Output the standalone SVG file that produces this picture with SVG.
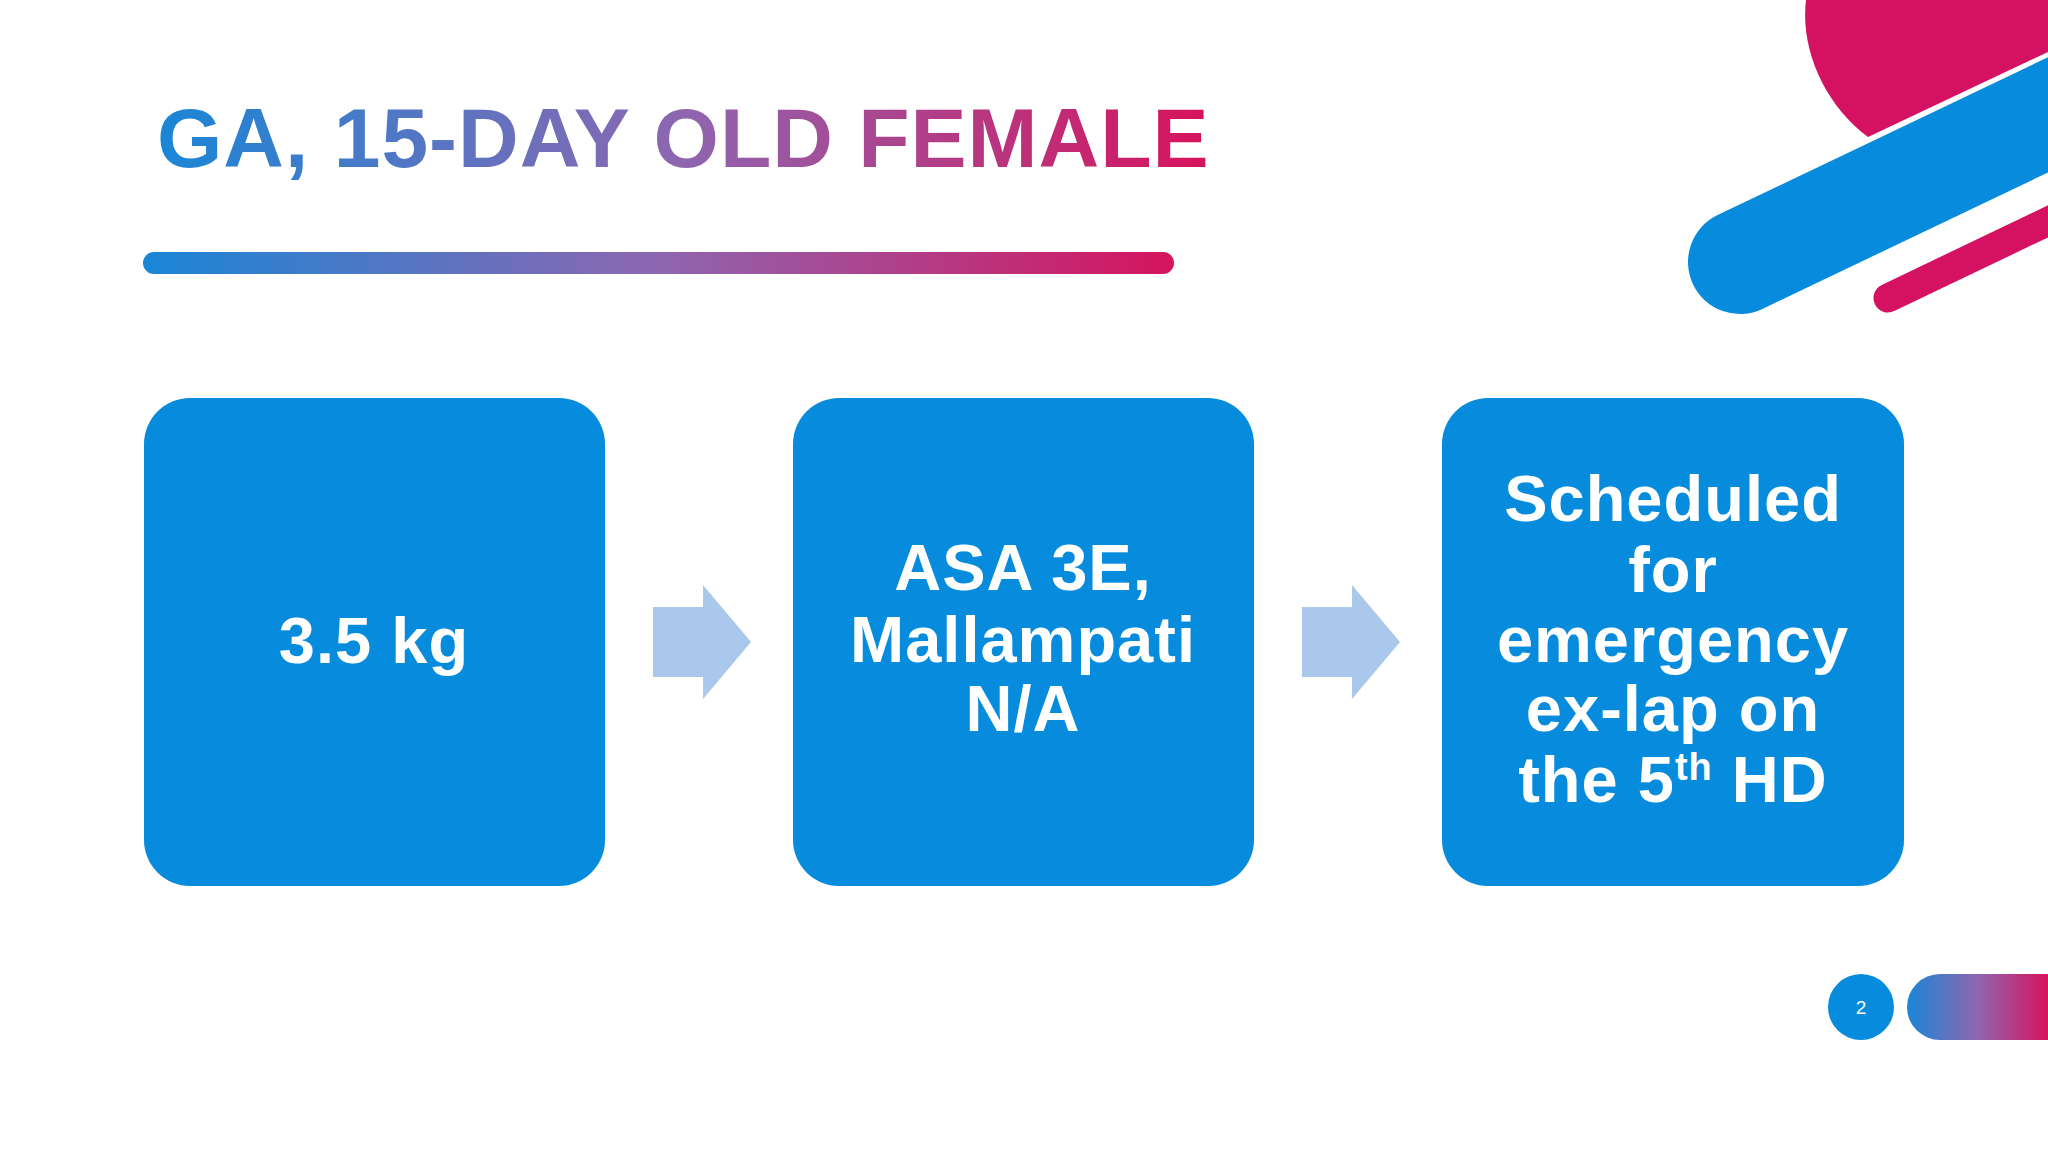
<svg xmlns="http://www.w3.org/2000/svg" width="2048" height="1152" viewBox="0 0 2048 1152">
<defs>
<linearGradient id="g" x1="0" y1="0" x2="1" y2="0"><stop offset="0" stop-color="#1a86d6"/><stop offset="0.5" stop-color="#8e66b0"/><stop offset="1" stop-color="#d6145e"/></linearGradient>
<linearGradient id="tg" gradientUnits="userSpaceOnUse" x1="157" y1="0" x2="1200" y2="0"><stop offset="0" stop-color="#1a86d6"/><stop offset="0.5" stop-color="#8e66b0"/><stop offset="1" stop-color="#d6145e"/></linearGradient>
<style>
.box{fill:#078bdc}
.arr{fill:#a9c8ec}
.t{font-family:"Liberation Sans",Arial,sans-serif;font-weight:bold;fill:#fff;font-size:65px;text-anchor:middle;letter-spacing:1px}
</style>
</defs>
<rect width="2048" height="1152" fill="#fff"/>
<path d="M1806,0 C1800,50 1825,105 1868,137 L2048,52 L2048,0 Z" fill="#d41261"/>
<line x1="1740" y1="262" x2="2100" y2="90" stroke="#078bdc" stroke-width="104" stroke-linecap="round"/>
<line x1="1888" y1="298" x2="2080" y2="206" stroke="#d41261" stroke-width="29" stroke-linecap="round"/>
<text x="157" y="167" font-family="Liberation Sans,Arial,sans-serif" font-weight="bold" font-size="84" letter-spacing="1" fill="url(#tg)">GA, 15-DAY OLD FEMALE</text>
<rect x="143" y="252" width="1031" height="22" rx="11" fill="url(#g)"/>
<g id="n1"><rect class="box" x="144" y="398" width="461" height="488" rx="46"/><text class="t" x="374" y="663">3.5 kg</text></g>
<g id="n2"><rect class="box" x="793" y="398" width="461" height="488" rx="46"/><text class="t" x="1023" y="590">ASA 3E,</text><text class="t" x="1023" y="662">Mallampati</text><text class="t" x="1023" y="731">N/A</text></g>
<g id="n3"><rect class="box" x="1442" y="398" width="462" height="488" rx="46"/><text class="t" x="1673" y="521">Scheduled</text><text class="t" x="1673" y="592">for</text><text class="t" x="1673" y="662">emergency</text><text class="t" x="1673" y="731">ex-lap on</text><text class="t" x="1673" y="802">the 5<tspan font-size="38" dy="-22">th</tspan><tspan dy="22"> HD</tspan></text></g>
<g id="connectors">
<path class="arr" d="M653,607 H703 V585 L751,642 L703,699 V677 H653 Z"/>
<path class="arr" d="M1302,607 H1352 V585 L1400,642 L1352,699 V677 H1302 Z"/>
</g>
<circle cx="1861" cy="1007" r="33" fill="#078bdc"/>
<text x="1861" y="1014" font-family="Liberation Sans,Arial,sans-serif" font-size="19" fill="#fff" text-anchor="middle">2</text>
<path d="M1940,974 H2048 V1040 H1940 A33,33 0 0 1 1940,974 Z" fill="url(#g)"/>
</svg>
